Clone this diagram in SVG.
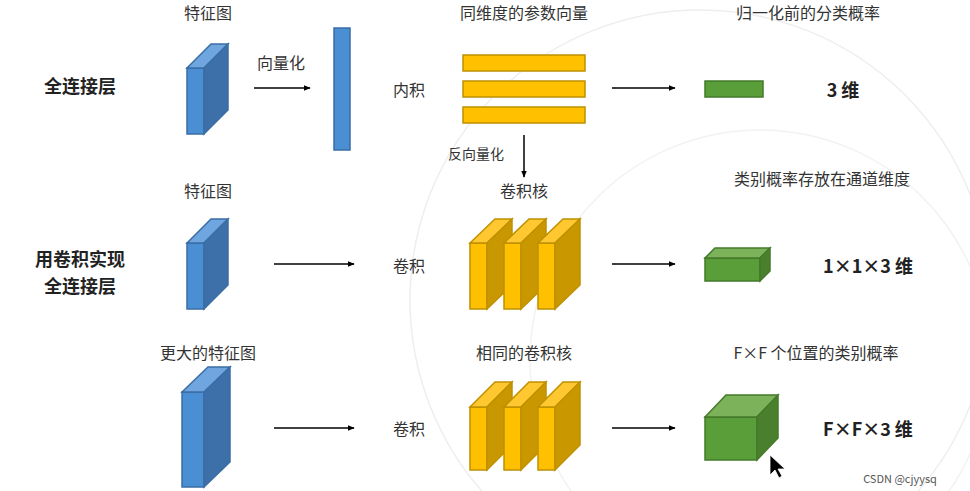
<svg xmlns="http://www.w3.org/2000/svg" width="970" height="491" viewBox="0 0 970 491">
<style>
text{font-family:"Noto Sans CJK SC","Noto Sans",sans-serif;font-size:16px;fill:#333;text-anchor:middle;dominant-baseline:central}
.b{font-weight:bold;font-size:18px;fill:#222}
.bf{fill:#4a8fd4;stroke:#3a6ea5;stroke-width:1.5}
.bs{fill:#3d6fa8;stroke:#3a6ea5;stroke-width:1.5}
.bt{fill:#6fa6e0;stroke:#3a6ea5;stroke-width:1.5}
.yf{fill:#ffc000;stroke:#bf9000;stroke-width:1.5}
.ys{fill:#c99700;stroke:#bf9000;stroke-width:1.5}
.yt{fill:#ffc830;stroke:#bf9000;stroke-width:1.5}
.gf{fill:#5a9e3a;stroke:#437a2a;stroke-width:1.5}
.gs{fill:#4a7f2e;stroke:#437a2a;stroke-width:1.5}
.gt{fill:#7cb35a;stroke:#437a2a;stroke-width:1.5}
.c line{stroke:#000;stroke-width:1.5;marker-end:url(#a)}
</style>
<defs><marker id="a" viewBox="0 0 10 10" refX="9" refY="5" markerWidth="7" markerHeight="7" orient="auto" markerUnits="userSpaceOnUse"><path d="M0,1L10,5L0,9z" fill="#000"/></marker></defs>
<rect width="970" height="491" fill="#fff"/>
<circle cx="700" cy="300" r="290" fill="none" stroke="#eee" stroke-width="1.5"/>
<circle cx="760" cy="360" r="230" fill="none" stroke="#f2f2f2" stroke-width="1.5"/>
<g id="labels">
<text x="208" y="12">特征图</text><text x="281" y="62">向量化</text>
<text class="b" x="80" y="85">全连接层</text><text x="409" y="89">内积</text>
<text x="524" y="12">同维度的参数向量</text><text x="808" y="12">归一化前的分类概率</text>
<text class="b" x="843" y="89">3 维</text><text x="476" y="153" style="font-size:14px">反向量化</text>
<text x="524" y="190">卷积核</text><text x="208" y="190">特征图</text>
<text x="822" y="178">类别概率存放在通道维度</text>
<text class="b" x="80" y="258">用卷积实现</text><text class="b" x="80" y="285">全连接层</text>
<text x="409" y="265">卷积</text><text class="b" x="868" y="265">1×1×3 维</text>
<text x="208" y="352">更大的特征图</text><text x="524" y="352">相同的卷积核</text>
<text x="816" y="352">F×F 个位置的类别概率</text>
<text x="409" y="428">卷积</text><text class="b" x="868" y="428">F×F×3 维</text>
<text x="900" y="478" style="font-size:11px;fill:#555">CSDN @cjyysq</text>
</g>
<g id="fmap1"><rect class="bf" x="187" y="68" width="17" height="66"/><polygon class="bt" points="187,68 211,44 228,44 204,68"/><polygon class="bs" points="204,68 228,44 228,110 204,134"/></g>
<g id="vector"><rect class="bf" x="334" y="28" width="16" height="122"/></g>
<g id="params"><rect class="yf" x="463" y="55" width="122" height="16"/><rect class="yf" x="463" y="81" width="122" height="16"/><rect class="yf" x="463" y="107" width="122" height="16"/></g>
<g id="out1"><rect class="gf" x="705" y="81" width="58" height="16"/></g>
<g id="fmap2"><rect class="bf" x="187" y="243" width="17" height="66"/><polygon class="bt" points="187,243 211,219 228,219 204,243"/><polygon class="bs" points="204,243 228,219 228,285 204,309"/></g>
<g id="kernels2">
<rect class="yf" x="470" y="243" width="17" height="66"/><polygon class="yt" points="470,243 495,219 512,219 487,243"/><polygon class="ys" points="487,243 512,219 512,285 487,309"/>
<rect class="yf" x="504" y="243" width="17" height="66"/><polygon class="yt" points="504,243 529,219 546,219 521,243"/><polygon class="ys" points="521,243 546,219 546,285 521,309"/>
<rect class="yf" x="538" y="243" width="17" height="66"/><polygon class="yt" points="538,243 563,219 580,219 555,243"/><polygon class="ys" points="555,243 580,219 580,285 555,309"/>
</g>
<g id="out2"><rect class="gf" x="705" y="258" width="55" height="23"/><polygon class="gt" points="705,258 715,248 770,248 760,258"/><polygon class="gs" points="760,258 770,248 770,271 760,281"/></g>
<g id="fmap3"><rect class="bf" x="182" y="392" width="22" height="95"/><polygon class="bt" points="182,392 208,367 230,367 204,392"/><polygon class="bs" points="204,392 230,367 230,462 204,487"/></g>
<g id="kernels3">
<rect class="yf" x="470" y="407" width="17" height="63"/><polygon class="yt" points="470,407 495,382 512,382 487,407"/><polygon class="ys" points="487,407 512,382 512,445 487,470"/>
<rect class="yf" x="504" y="407" width="17" height="63"/><polygon class="yt" points="504,407 529,382 546,382 521,407"/><polygon class="ys" points="521,407 546,382 546,445 521,470"/>
<rect class="yf" x="538" y="407" width="17" height="63"/><polygon class="yt" points="538,407 563,382 580,382 555,407"/><polygon class="ys" points="555,407 580,382 580,445 555,470"/>
</g>
<g id="out3"><rect class="gf" x="705" y="417" width="52" height="43"/><polygon class="gt" points="705,417 726,395 778,395 757,417"/><polygon class="gs" points="757,417 778,395 778,438 757,460"/></g>
<polygon id="cursor" points="770,455 770,475 775,470 779,478 782,476 778,469 785,469" fill="#000" stroke="#fff" stroke-width="0.8"/>
<g class="c" id="connectors">
<line x1="254" y1="88" x2="310" y2="88"/><line x1="612" y1="88" x2="675" y2="88"/>
<line x1="524" y1="135" x2="524" y2="177"/>
<line x1="274" y1="264" x2="354" y2="264"/><line x1="612" y1="264" x2="675" y2="264"/>
<line x1="274" y1="428" x2="354" y2="428"/><line x1="612" y1="428" x2="675" y2="428"/>
</g>
</svg>
